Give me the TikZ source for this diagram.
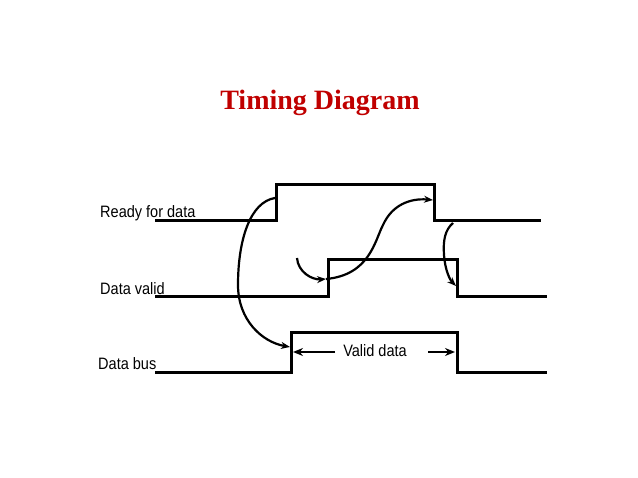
\documentclass[tikz,border=0pt]{standalone}
\usepackage{fontspec}
\setmainfont{Liberation Serif}
\newfontfamily\sigfont[FakeStretch=0.88]{Liberation Sans}
\usetikzlibrary{positioning,arrows.meta}
\definecolor{titlered}{RGB}{192,0,0}
\tikzset{signal/.style={
  line width=3pt,
  line join=miter
}}
\tikzset{cause/.style={
  line width=2.2pt,
  -{Stealth[length=9pt,width=7pt]}
}}
\tikzset{span/.style={
  line width=2.8pt,
  -{Stealth[length=10pt,width=8pt]}
}}
\tikzset{siglabel/.style={
  font=\sigfont\fontsize{16.5}{18}\selectfont,
  inner sep=0pt,
  anchor=base west
}}

\begin{document}
\begin{tikzpicture}[x=1pt,y=-1pt]
  \useasboundingbox (0,0) rectangle (638,478);
  \node [font=\bfseries\fontsize{28}{30}\selectfont, text=titlered, anchor=base] (title) at (320,110) {Timing Diagram};

  \node [siglabel] (ready) at (100,218) {Ready for data};
  \node [siglabel] (valid) at (100,295) {Data valid};
  \node [siglabel] (bus) at (98,370) {Data bus};

  \draw [signal] (155,221) -| (276,185) -| (434,221) -- (541,221);
  \draw [signal] (155,297) -| (328,260) -| (457,297) -- (547,297);
  \draw [signal] (155,373) -| (291,333) -| (457,373) -- (547,373);

  \coordinate (readyRise) at (275,198);
  \coordinate (busRise) at (290,347);
  \coordinate (validStart) at (297,258);
  \coordinate (validRise) at (326,279);
  \coordinate (readyFall) at (433,200);
  \coordinate (readyLow) at (453,223);
  \coordinate (validFall) at (456,286);

  \draw [cause] (readyRise) .. controls (250,202) and (238,240) .. (238,285)
    .. controls (238,320) and (262,342) .. (busRise);
  \draw [cause] (validStart) .. controls (298,272) and (312,280) .. (validRise);
  \draw [cause] (validRise) .. controls (370,275) and (375,240) .. (383,225)
    .. controls (392,205) and (410,198) .. (readyFall);
  \draw [cause] (readyLow) .. controls (445,230) and (443,240) .. (444,255)
    .. controls (445,270) and (450,280) .. (validFall);

  \node [siglabel, anchor=base] (vdata) at (375,357) {Valid data};
  \coordinate (vdLeftTail) at (335,352);
  \coordinate (vdLeft) at (293,352);
  \coordinate (vdRightTail) at (428,352);
  \coordinate (vdRight) at (455,352);
  \draw [span] (vdLeftTail) -- (vdLeft);
  \draw [span] (vdRightTail) -- (vdRight);
\end{tikzpicture}
\end{document}
